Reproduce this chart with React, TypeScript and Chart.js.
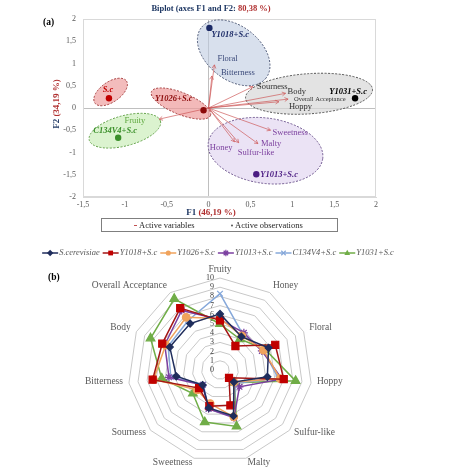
import React, { useEffect, useRef } from 'react';
import { Chart, registerables } from 'chart.js';
Chart.register(...registerables);

const SERIF = '"Liberation Serif", "Times New Roman", serif';

// ---------- (a) Biplot data ----------
const OBS_NAMES = ['Y1018+S.c', 'S.c', 'Y1026+S.c', 'Y1031+S.c', 'C134V4+S.c', 'Y1013+S.c'];
const OBS_F1 = [0.01, -1.19, -0.06, 1.75, -1.08, 0.57];
const OBS_F2 = [1.8, 0.22, -0.05, 0.22, -0.67, -1.49];

const VAR_NAMES = ['Floral', 'Bitterness', 'Sourness', 'Body', 'Overall Acceptance', 'Hoppy', 'Fruity', 'Sweetness', 'Malty', 'Sulfur-like', 'Honey'];
const VAR_F1 = [0.07, 0.04, 0.53, 0.92, 0.95, 0.84, -0.59, 0.74, 0.59, 0.36, 0.31];
const VAR_F2 = [0.97, 0.72, 0.48, 0.33, 0.2, 0.14, -0.25, -0.5, -0.8, -0.78, -0.76];

const F1_RANGE = [-1.5, 2];
const F2_RANGE = [-2, 2];
const AXIS_STEP = 0.5;

// group ellipses (centre in F1/F2 units, semi-axes in F1 units, rotation in degrees)
const ELLIPSES = [
  { cx: 0.3, cy: 1.24, a: 0.49, b: 0.32, rot: 38, fill: 'rgba(190,203,225,0.6)', stroke: '#4f5a78' },
  { cx: -1.17, cy: 0.36, a: 0.23, b: 0.12, rot: -35, fill: 'rgba(238,160,160,0.7)', stroke: '#a33b3b' },
  { cx: -0.33, cy: 0.1, a: 0.38, b: 0.13, rot: 22, fill: 'rgba(238,155,155,0.7)', stroke: '#a33b3b' },
  { cx: 1.2, cy: 0.32, a: 0.76, b: 0.24, rot: -4, fill: 'rgba(215,215,215,0.7)', stroke: '#505050' },
  { cx: -1.0, cy: -0.51, a: 0.44, b: 0.18, rot: -15, fill: 'rgba(210,240,195,0.8)', stroke: '#5f9f45' },
  { cx: 0.68, cy: -0.96, a: 0.69, b: 0.39, rot: 8, fill: 'rgba(230,220,242,0.8)', stroke: '#6f578f' },
];

const OBS_STYLE = [
  { color: '#1b2a66', dx: 2, dy: 7, align: 'left' },
  { color: '#c00000', dx: -1, dy: -8, align: 'center' },
  { color: '#8b0a0a', dx: -11, dy: -11, align: 'right' },
  { color: '#000000', dx: -7, dy: -6, align: 'center' },
  { color: '#3a8f2a', dx: -3, dy: -7, align: 'center' },
  { color: '#4b1c82', dx: 4, dy: 0, align: 'left' },
];
const BLUEV = '#3b4a7a', GRAYV = '#2f2f2f', GREENV = '#5fa83f', PURPV = '#7b3f9e';
const VAR_STYLE = [
  { color: BLUEV, dx: 3, dy: -6, align: 'left', size: 8.5 },
  { color: BLUEV, dx: 9, dy: -3, align: 'left', size: 8.5 },
  { color: GRAYV, dx: 4, dy: 0, align: 'left', size: 8.5 },
  { color: GRAYV, dx: 2, dy: -2, align: 'left', size: 8.5 },
  { color: GRAYV, dx: 6, dy: 0, align: 'left', size: 6.5 },
  { color: GRAYV, dx: 10, dy: 5, align: 'left', size: 8.5 },
  { color: GREENV, dx: -14, dy: 2, align: 'right', size: 8.5 },
  { color: PURPV, dx: 2, dy: 3, align: 'left', size: 8.5 },
  { color: PURPV, dx: 3, dy: 0, align: 'left', size: 8.5 },
  { color: PURPV, dx: -1, dy: 10, align: 'left', size: 8.5 },
  { color: PURPV, dx: -2, dy: 6, align: 'right', size: 8.5 },
];

// ---------- (b) Radar data ----------
const ATTRIBUTES = ['Fruity', 'Honey', 'Floral', 'Hoppy', 'Sulfur-like', 'Malty', 'Sweetness', 'Sourness', 'Bitterness', 'Body', 'Overall Acceptance'];
const SERIES_NAMES = ['S.cerevisiae', 'Y1018+S.c', 'Y1026+S.c', 'Y1013+S.c', 'C134V4+S.c', 'Y1031+S.c'];
const S_CEREVISIAE = [6.1, 4.3, 5.8, 5.2, 2.0, 5.2, 4.3, 2.5, 4.8, 6.0, 6.0];
const Y1018 = [5.4, 3.1, 6.6, 7.0, 1.3, 4.0, 4.1, 3.0, 7.4, 6.9, 8.0];
const Y1026 = [5.6, 4.4, 5.2, 6.6, 2.0, 5.3, 3.8, 3.3, 7.3, 6.5, 6.8];
const Y1013 = [5.5, 4.8, 5.0, 6.8, 2.8, 5.4, 4.4, 2.5, 5.6, 6.6, 7.7];
const C134V4 = [8.3, 4.6, 5.2, 6.4, 2.2, 5.3, 4.4, 2.4, 5.4, 6.2, 6.4];
const Y1031 = [5.0, 4.0, 5.4, 8.3, 2.1, 6.4, 5.9, 3.9, 6.4, 8.3, 9.2];
const RADAR_TICKS = [0, 1, 2, 3, 4, 5, 6, 7, 8, 9, 10];

const SERIES_DATA = [S_CEREVISIAE, Y1018, Y1026, Y1013, C134V4, Y1031];
const SERIES_STYLE = [
  { line: '#1f2d5c', fill: '#1f2d5c', point: 'rectRot', r: 3.5 },
  { line: '#a31515', fill: '#c00000', point: 'rect', r: 5 },
  { line: '#f0a35c', fill: '#f0a35c', point: 'circle', r: 3.8 },
  { line: '#7b3fa0', fill: '#7b3fa0', point: 'star', r: 4 },
  { line: '#86a8da', fill: '#86a8da', point: 'crossRot', r: 4 },
  { line: '#70ad47', fill: '#70ad47', point: 'triangle', r: 5 },
];

const fmt = (v: number) => String(Math.round(v * 10) / 10).replace('.', ',');

function richText(ctx: CanvasRenderingContext2D, parts: { t: string; c: string }[], x: number, y: number) {
  const total = parts.reduce((s, p) => s + ctx.measureText(p.t).width, 0);
  let cx = x - total / 2;
  ctx.textAlign = 'left';
  parts.forEach((p) => {
    ctx.fillStyle = p.c;
    ctx.fillText(p.t, cx, y);
    cx += ctx.measureText(p.t).width;
  });
}

function arrow(ctx: CanvasRenderingContext2D, x0: number, y0: number, x1: number, y1: number) {
  ctx.beginPath();
  ctx.moveTo(x0, y0);
  ctx.lineTo(x1, y1);
  ctx.stroke();
  const a = Math.atan2(y1 - y0, x1 - x0);
  const h = 4;
  ctx.beginPath();
  ctx.moveTo(x1 - h * Math.cos(a - 0.5), y1 - h * Math.sin(a - 0.5));
  ctx.lineTo(x1, y1);
  ctx.lineTo(x1 - h * Math.cos(a + 0.5), y1 - h * Math.sin(a + 0.5));
  ctx.stroke();
}

function marker(ctx: CanvasRenderingContext2D, style: string, x: number, y: number, r: number, color: string) {
  ctx.save();
  ctx.fillStyle = color;
  ctx.strokeStyle = color;
  ctx.lineWidth = 1.2;
  ctx.beginPath();
  if (style === 'rectRot') {
    ctx.moveTo(x, y - r); ctx.lineTo(x + r, y); ctx.lineTo(x, y + r); ctx.lineTo(x - r, y); ctx.closePath(); ctx.fill();
  } else if (style === 'rect') {
    ctx.rect(x - r * 0.75, y - r * 0.75, r * 1.5, r * 1.5); ctx.fill();
  } else if (style === 'circle') {
    ctx.arc(x, y, r * 0.8, 0, Math.PI * 2); ctx.fill();
  } else if (style === 'triangle') {
    ctx.moveTo(x, y - r); ctx.lineTo(x + r * 0.9, y + r * 0.6); ctx.lineTo(x - r * 0.9, y + r * 0.6); ctx.closePath(); ctx.fill();
  } else if (style === 'star') {
    ctx.moveTo(x - r, y); ctx.lineTo(x + r, y); ctx.moveTo(x, y - r); ctx.lineTo(x, y + r);
    ctx.moveTo(x - r * 0.7, y - r * 0.7); ctx.lineTo(x + r * 0.7, y + r * 0.7);
    ctx.moveTo(x - r * 0.7, y + r * 0.7); ctx.lineTo(x + r * 0.7, y - r * 0.7); ctx.stroke();
  } else {
    ctx.moveTo(x - r * 0.7, y - r * 0.7); ctx.lineTo(x + r * 0.7, y + r * 0.7);
    ctx.moveTo(x - r * 0.7, y + r * 0.7); ctx.lineTo(x + r * 0.7, y - r * 0.7); ctx.stroke();
  }
  ctx.restore();
}

const biplotDecor = {
  id: 'biplotDecor',
  beforeDatasetsDraw(chart: any) {
    const { ctx, chartArea } = chart;
    const xs = chart.scales.x, ys = chart.scales.y;
    const unit = Math.abs(xs.getPixelForValue(1) - xs.getPixelForValue(0));
    ctx.save();
    ctx.strokeStyle = '#d9d9d9';
    ctx.lineWidth = 1;
    ctx.strokeRect(chartArea.left + 0.5, chartArea.top + 0.5, chartArea.right - chartArea.left - 1, chartArea.bottom - chartArea.top - 1);
    ELLIPSES.forEach((e) => {
      ctx.beginPath();
      ctx.ellipse(xs.getPixelForValue(e.cx), ys.getPixelForValue(e.cy), e.a * unit, e.b * unit, (e.rot * Math.PI) / 180, 0, Math.PI * 2);
      ctx.fillStyle = e.fill;
      ctx.fill();
      ctx.setLineDash([2, 1.5]);
      ctx.strokeStyle = e.stroke;
      ctx.lineWidth = 1;
      ctx.stroke();
      ctx.setLineDash([]);
    });
    const ox = xs.getPixelForValue(0), oy = ys.getPixelForValue(0);
    ctx.strokeStyle = 'rgba(205,85,85,0.75)';
    ctx.lineWidth = 0.9;
    chart.getDatasetMeta(1).data.forEach((p: any) => arrow(ctx, ox, oy, p.x, p.y));
    ctx.restore();
  },
  afterDatasetsDraw(chart: any) {
    const { ctx } = chart;
    ctx.save();
    ctx.textBaseline = 'middle';
    chart.getDatasetMeta(1).data.forEach((p: any, i: number) => {
      const s = VAR_STYLE[i];
      ctx.font = `${s.size}px ${SERIF}`;
      ctx.fillStyle = s.color;
      ctx.textAlign = s.align;
      ctx.fillText(VAR_NAMES[i], p.x + s.dx, p.y + s.dy);
    });
    chart.getDatasetMeta(0).data.forEach((p: any, i: number) => {
      const s = OBS_STYLE[i];
      ctx.font = `italic bold 8.5px ${SERIF}`;
      ctx.fillStyle = s.color;
      ctx.textAlign = s.align;
      ctx.fillText(OBS_NAMES[i], p.x + s.dx, p.y + s.dy);
    });
    ctx.restore();
  },
  afterDraw(chart: any) {
    const { ctx } = chart;
    ctx.save();
    ctx.textBaseline = 'middle';
    ctx.font = `bold 8.5px ${SERIF}`;
    richText(ctx, [{ t: 'Biplot (axes F1 and F2: ', c: '#1f3864' }, { t: '80,38 %)', c: '#b03030' }], 211, 9);
    ctx.font = `bold 9.5px ${SERIF}`;
    ctx.fillStyle = '#000';
    ctx.textAlign = 'left';
    ctx.fillText('(a)', 43, 23);
    ctx.font = `bold 9px ${SERIF}`;
    richText(ctx, [{ t: 'F1 ', c: '#1f3864' }, { t: '(46,19 %)', c: '#b03030' }], 211, 213);
    ctx.save();
    ctx.translate(57, 104);
    ctx.rotate(-Math.PI / 2);
    richText(ctx, [{ t: 'F2 ', c: '#1f3864' }, { t: '(34,19 %)', c: '#b03030' }], 0, 0);
    ctx.restore();
    // legend box
    ctx.strokeStyle = '#7f7f7f';
    ctx.lineWidth = 1;
    ctx.strokeRect(101.5, 218.5, 236, 13);
    ctx.font = `8.5px ${SERIF}`;
    ctx.fillStyle = '#262626';
    ctx.textAlign = 'left';
    ctx.fillText('Active variables', 139, 225.5);
    ctx.fillText('Active observations', 235, 225.5);
    ctx.strokeStyle = '#c05050';
    ctx.beginPath(); ctx.moveTo(134, 225.5); ctx.lineTo(137, 225.5); ctx.stroke();
    ctx.fillStyle = '#444';
    ctx.beginPath(); ctx.arc(232, 225.5, 0.9, 0, Math.PI * 2); ctx.fill();
    ctx.restore();
  },
};

const radarDecor = {
  id: 'radarDecor',
  beforeDatasetsDraw(chart: any) {
    const { ctx } = chart;
    const r = chart.scales.r;
    ctx.save();
    ctx.font = `8px ${SERIF}`;
    ctx.fillStyle = '#404040';
    ctx.textAlign = 'right';
    ctx.textBaseline = 'middle';
    RADAR_TICKS.forEach((v) => {
      ctx.fillText(String(v), r.xCenter - 6, r.yCenter - r.getDistanceFromCenterForValue(v));
    });
    ctx.restore();
  },
  afterDraw(chart: any) {
    const { ctx } = chart;
    const r = chart.scales.r;
    ctx.save();
    ctx.font = `9.5px ${SERIF}`;
    ctx.fillStyle = '#595959';
    ATTRIBUTES.forEach((lab, i) => {
      const p = r.getPointPosition(i, r.drawingArea + 6);
      const c = Math.cos(p.angle);
      if (Math.abs(c) < 0.05) {
        ctx.textAlign = 'center';
        ctx.textBaseline = 'bottom';
        ctx.fillText(lab, p.x, p.y + 2);
      } else {
        ctx.textAlign = c > 0 ? 'left' : 'right';
        ctx.textBaseline = 'middle';
        ctx.fillText(lab, p.x, p.y - 2);
      }
    });
    // legend
    ctx.font = `italic 8.5px ${SERIF}`;
    ctx.textBaseline = 'middle';
    ctx.textAlign = 'left';
    const lineW = 16, gap = 1, sep = 3;
    const widths = SERIES_NAMES.map((n) => lineW + gap + ctx.measureText(n).width);
    const total = widths.reduce((a, b) => a + b, 0) + sep * (SERIES_NAMES.length - 1);
    let x = 218 - total / 2;
    const y = 13;
    SERIES_NAMES.forEach((n, i) => {
      const s = SERIES_STYLE[i];
      ctx.strokeStyle = s.line;
      ctx.lineWidth = 1.5;
      ctx.beginPath(); ctx.moveTo(x, y); ctx.lineTo(x + lineW, y); ctx.stroke();
      marker(ctx, s.point, x + lineW / 2, y, 3.2, s.fill);
      ctx.fillStyle = '#595959';
      ctx.fillText(n, x + lineW + gap, y);
      x += widths[i] + sep;
    });
    ctx.font = `bold 9.5px ${SERIF}`;
    ctx.fillStyle = '#000';
    ctx.fillText('(b)', 48, 38);
    ctx.restore();
  },
};

export default function App() {
  const aRef = useRef<HTMLCanvasElement>(null);
  const bRef = useRef<HTMLCanvasElement>(null);

  useEffect(() => {
    const zeroGrid = (c: any) => (c.tick && c.tick.value === 0 ? '#bfbfbf' : 'rgba(0,0,0,0)');
    const tickFont = { family: SERIF, size: 8 };
    const c1 = new Chart(aRef.current as HTMLCanvasElement, {
      type: 'scatter',
      data: {
        datasets: [
          {
            label: 'Active observations',
            data: OBS_F1.map((x, i) => ({ x, y: OBS_F2[i] })),
            pointRadius: 3.2,
            pointBackgroundColor: OBS_STYLE.map((s) => s.color),
            pointBorderColor: OBS_STYLE.map((s) => s.color),
            pointBorderWidth: 0,
          },
          {
            label: 'Active variables',
            data: VAR_F1.map((x, i) => ({ x, y: VAR_F2[i] })),
            pointRadius: 0,
            pointHoverRadius: 0,
          },
        ],
      },
      options: {
        responsive: false,
        animation: false,
        events: [],
        layout: { padding: { left: 0, right: 98, top: 19, bottom: 28 } },
        plugins: { legend: { display: false }, tooltip: { enabled: false }, title: { display: false } },
        scales: {
          x: {
            type: 'linear',
            min: F1_RANGE[0],
            max: F1_RANGE[1],
            afterFit: (s: any) => { s.height = 15; },
            ticks: { stepSize: AXIS_STEP, padding: 3, font: tickFont, color: '#595959', autoSkip: false, maxRotation: 0, callback: (v: any) => fmt(Number(v)) },
            grid: { drawTicks: false, color: zeroGrid },
            border: { display: true, color: '#d9d9d9' },
          },
          y: {
            type: 'linear',
            min: F2_RANGE[0],
            max: F2_RANGE[1],
            afterFit: (s: any) => { s.width = 83; },
            ticks: { stepSize: AXIS_STEP, padding: 7, font: tickFont, color: '#595959', autoSkip: false, callback: (v: any) => fmt(Number(v)) },
            grid: { drawTicks: false, color: zeroGrid },
            border: { display: true, color: '#d9d9d9' },
          },
        },
      } as any,
      plugins: [biplotDecor],
    });

    const c2 = new Chart(bRef.current as HTMLCanvasElement, {
      type: 'radar',
      data: {
        labels: ATTRIBUTES,
        datasets: SERIES_NAMES.map((n, i) => ({
          label: n,
          data: SERIES_DATA[i],
          borderColor: SERIES_STYLE[i].line,
          backgroundColor: 'rgba(0,0,0,0)',
          borderWidth: 1.5,
          fill: false,
          pointStyle: SERIES_STYLE[i].point as any,
          pointRadius: SERIES_STYLE[i].r,
          pointBackgroundColor: SERIES_STYLE[i].fill,
          pointBorderColor: SERIES_STYLE[i].fill,
          pointBorderWidth: 1.2,
        })),
      },
      options: {
        responsive: false,
        animation: false,
        events: [],
        layout: { padding: { left: 128, right: 162, top: 38, bottom: 12 } },
        plugins: { legend: { display: false }, tooltip: { enabled: false } },
        scales: {
          r: {
            min: 0,
            max: 10,
            ticks: { display: false, stepSize: 1 },
            pointLabels: { display: false },
            angleLines: { display: false },
            grid: { circular: false, color: '#c8c8c8', lineWidth: 1 },
          },
        },
      } as any,
      plugins: [radarDecor],
    });

    return () => {
      c1.destroy();
      c2.destroy();
    };
  }, []);

  return (
    <div style={{ position: 'fixed', left: 0, top: 0, width: 474, height: 474, background: '#fff' }}>
      <canvas ref={aRef} width={474} height={240} style={{ position: 'absolute', left: 0, top: 0 }} />
      <canvas ref={bRef} width={474} height={234} style={{ position: 'absolute', left: 0, top: 240 }} />
    </div>
  );
}
